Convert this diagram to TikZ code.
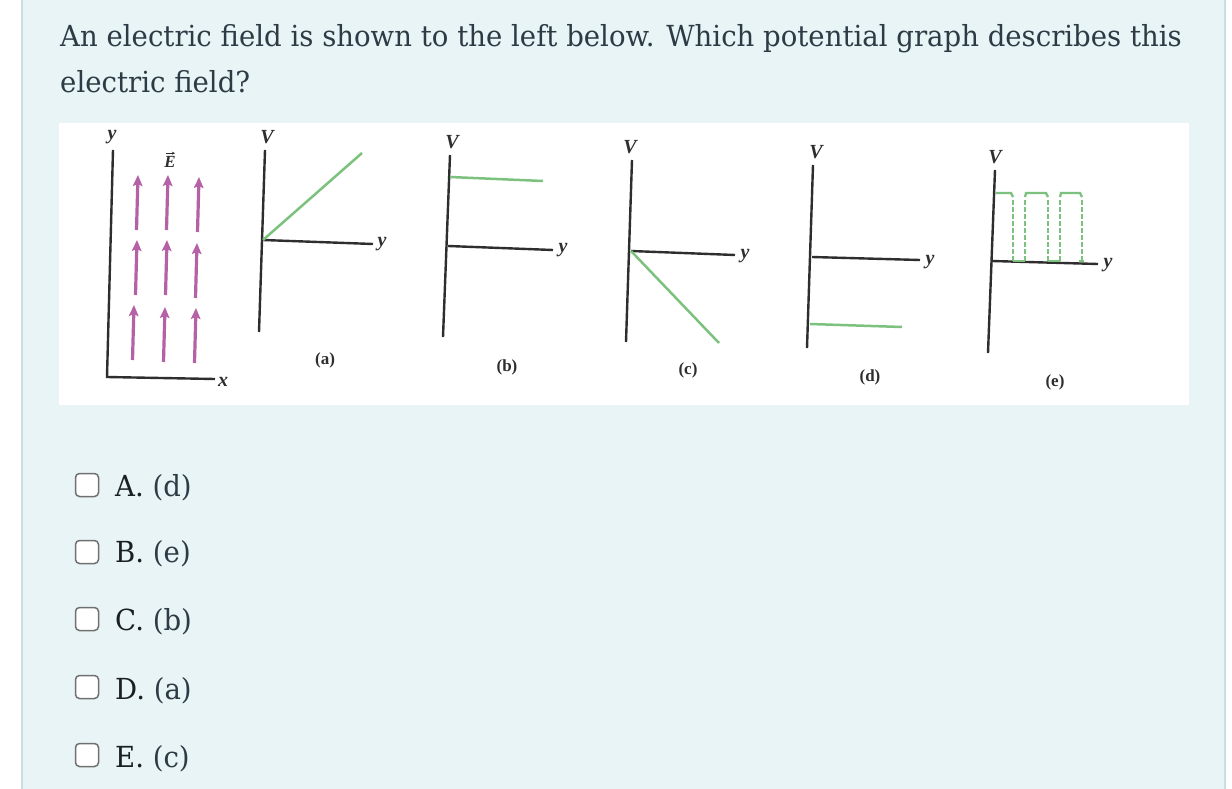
\documentclass[tikz,border=0pt]{standalone}
\usepackage{fontspec}
\setmainfont{DejaVu Serif}[FakeStretch=0.95]
\newfontfamily\figfont{Liberation Serif}
\usetikzlibrary{arrows.meta}
\definecolor{pagebg}{HTML}{E8F4F6}
\definecolor{rulec}{HTML}{C9DFE4}
\definecolor{txt}{HTML}{2D3B45}
\definecolor{optink}{HTML}{1A1F24}
\definecolor{ink}{HTML}{2E2E2E}
\definecolor{grn}{HTML}{7CC27E}
\definecolor{mag}{HTML}{B461A6}
\definecolor{boxgray}{HTML}{707070}
\begin{document}
\begin{tikzpicture}[x=1pt,y=-1pt,
  axis/.style={ink, line width=2.4pt},
  curve/.style={grn, line width=2.5pt},
  wavetop/.style={grn, line width=2.3pt},
  wave/.style={grn, line width=2.4pt, dash pattern=on 4.5pt off 2.5pt},
  field/.style={mag, line width=3.2pt, -{Stealth[length=11pt,width=9.5pt,inset=2pt]}},
  varlbl/.style={font=\figfont\bfseries\itshape\fontsize{20}{20}\selectfont, text=ink, inner sep=0pt},
  panlbl/.style={font=\figfont\bfseries\fontsize{17}{17}\selectfont, text=ink, inner sep=0pt},
  title/.style={font=\fontsize{29}{29}\selectfont, text=txt, anchor=base west, inner sep=0pt},
  chk/.style={draw=boxgray, line width=1.5pt, fill=white, rounded corners=4pt, minimum size=23pt, inner sep=0pt},
  opt/.style={font=\fontsize{29}{29}\selectfont, text=txt, anchor=base west, inner sep=0pt}
]
\useasboundingbox (0,0) rectangle (1232,789);
\fill[white] (0,0) rectangle (1232,789);
\fill[pagebg] (22,0) rectangle (1225,789);
\draw[rulec, line width=2pt] (22,0) -- (22,789);
\draw[rulec, line width=2pt] (1225,0) -- (1225,789);

% question
\node[title] (q1) at (60,47) {An electric field is shown to the left below. Which potential graph describes this};
\node[title] (q2) at (60,93) {electric field?};

% figure panel
\fill[white] (59,123) rectangle (1189,405);

% ---- field picture
\coordinate (fy) at (113,150);
\coordinate (fo) at (107,377);
\coordinate (fx) at (215,379);
\draw[axis] (fy) -- (fo) -- (fx);
\node[varlbl] (ly0) at (112,137) {y};
\node[varlbl] (lx0) at (223,382) {x};
\node[varlbl, font=\figfont\bfseries\itshape\fontsize{17}{17}\selectfont] (lE) at (170,162) {E};
\draw[ink, line width=1pt, -{Stealth[length=3pt,width=3pt]}] ([xshift=-4pt,yshift=3pt]lE.north) -- ([xshift=5pt,yshift=3pt]lE.north);
\foreach \cx/\ty [count=\i] in {138/175,168/175,199/177, 137/240,167/240,197/243, 134/305,165/307,196/308}{
  \coordinate (t\i) at (\cx,\ty);
  \coordinate (b\i) at ({\cx-1.5},{\ty+55});
  \draw[field] (b\i) -- (t\i);
}

% ---- (a)
\coordinate (aT) at (265,150); \coordinate (aB) at (259,332);
\coordinate (aO) at (263,240); \coordinate (aE) at (373,244);
\coordinate (aG) at (362,153);
\draw[axis] (aT) -- (aB);
\draw[axis] (aO) -- (aE);
\draw[curve] (aO) -- (aG);
\node[varlbl] (aV) at (267,137) {V};
\node[varlbl] (ay) at (382,244) {y};
\node[panlbl] (al) at (325,360) {(a)};

% ---- (b)
\coordinate (bT) at (450,155); \coordinate (bB) at (443,337);
\coordinate (bO) at (448,246); \coordinate (bE) at (553,250);
\coordinate (bG1) at (450,177); \coordinate (bG2) at (543,181);
\draw[axis] (bT) -- (bB);
\draw[axis] (bO) -- (bE);
\draw[curve] (bG1) -- (bG2);
\node[varlbl] (bV) at (452,142) {V};
\node[varlbl] (by) at (563,250) {y};
\node[panlbl] (bl) at (507,367) {(b)};

% ---- (c)
\coordinate (cT) at (632,160); \coordinate (cB) at (626,342);
\coordinate (cO) at (631,251); \coordinate (cE) at (735,255);
\coordinate (cG) at (719,343);
\draw[axis] (cT) -- (cB);
\draw[axis] (cO) -- (cE);
\draw[curve] (cO) -- (cG);
\node[varlbl] (cV) at (630,147) {V};
\node[varlbl] (cy) at (745,256) {y};
\node[panlbl] (cl) at (688,370) {(c)};

% ---- (d)
\coordinate (dT) at (813,165); \coordinate (dB) at (807,348);
\coordinate (dO) at (812,257); \coordinate (dE) at (920,260);
\coordinate (dG1) at (810,324); \coordinate (dG2) at (902,327);
\draw[axis] (dT) -- (dB);
\draw[axis] (dO) -- (dE);
\draw[curve] (dG1) -- (dG2);
\node[varlbl] (dV) at (816,152) {V};
\node[varlbl] (dy) at (930,262) {y};
\node[panlbl] (dl) at (870,377) {(d)};

% ---- (e)
\coordinate (eT) at (995,170); \coordinate (eB) at (988,353);
\coordinate (eO) at (992,261); \coordinate (eE) at (1098,264);
\draw[axis] (eT) -- (eB);
\draw[axis] (eO) -- (eE);
\draw[wavetop] (996,193) -- (1011,193) -- (1013,197);
\draw[wavetop] (1025,197) -- (1026,193) -- (1046,193) -- (1048,197);
\draw[wavetop] (1060,197) -- (1061,193) -- (1080,193) -- (1082,197);
\draw[wave] (1013,200) -- (1013,261);
\draw[wave] (1025,200) -- (1025,261);
\draw[wave] (1048,200) -- (1048,261);
\draw[wave] (1060,200) -- (1060,261);
\draw[wave] (1082,200) -- (1082,261);
\draw[wavetop] (1013,261) -- (1025,261);
\draw[wavetop] (1048,261) -- (1060,261);
\draw[wavetop] (1079,261) -- (1084,261);
\node[varlbl] (eV) at (995,157) {V};
\node[varlbl] (ey) at (1108,265) {y};
\node[panlbl] (el) at (1055,382) {(e)};

% ---- options
\foreach \lab/\ans/\yb/\yc in {A/d/496/485, B/e/562/552, C/b/630/619, D/a/699/687, E/c/767/755}{
  \node[chk] (box\lab) at (87,\yc) {};
  \node[opt] (opt\lab) at (115,\yb) {\textcolor{optink}{\lab.} (\ans)};
}
\end{tikzpicture}
\end{document}
